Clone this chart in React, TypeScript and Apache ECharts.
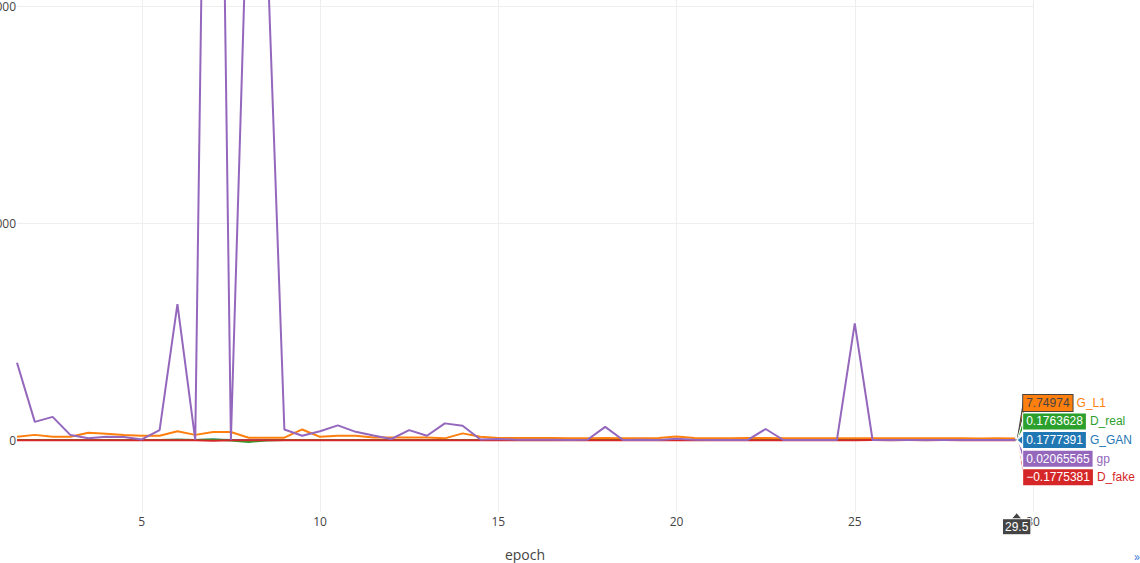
import React, { useEffect, useRef } from "react";
import * as echarts from "echarts";

// epochs 1.5 .. 29.5
const epochs = [
  1.5, 2, 2.5, 3, 3.5, 4, 4.5, 5, 5.5, 6,
  6.5, 7, 7.5, 8, 8.5, 9, 9.5, 10, 10.5, 11,
  11.5, 12, 12.5, 13, 13.5, 14, 14.5, 15, 15.5, 16,
  16.5, 17, 17.5, 18, 18.5, 19, 19.5, 20, 20.5, 21,
  21.5, 22, 22.5, 23, 23.5, 24, 24.5, 25, 25.5, 26,
  26.5, 27, 27.5, 28, 28.5, 29, 29.5,
];

const G_GAN = [
  0.58, 0.43, 0.49, 0.36, 0.42, 0.35, 0.4, 0.32, 0.45, 1.1,
  0.5, 2.6, 0.8, -1.2, 0.7, 0.55, 0.4, 0.37, 0.34, 0.3,
  0.29, 0.27, 0.28, 0.26, 0.29, 0.25, 0.24, 0.23, 0.22, 0.21,
  0.22, 0.2, 0.21, 0.23, 0.19, 0.2, 0.19, 0.21, 0.19, 0.2,
  0.19, 0.18, 0.2, 0.18, 0.19, 0.18, 0.18, 0.19, 0.17, 0.18,
  0.17, 0.18, 0.17, 0.18, 0.18, 0.18, 0.1777391,
];

const G_L1 = [
  15, 24, 15, 15, 34, 29, 23, 20, 20, 41,
  24, 37, 37, 11, 11, 11, 49, 15, 20, 20,
  12, 12, 12, 12, 8, 31, 15, 10, 9.6, 9.4,
  9.1, 8.9, 8.8, 9.2, 8.9, 8.7, 9.5, 16, 10, 8.6,
  8.5, 9.3, 9.1, 8.4, 8.5, 8.3, 8.3, 8.4, 8.2, 8.2,
  8.1, 8.0, 7.9, 8.0, 7.8, 7.9, 7.74974,
];

const D_real = [
  0.62, 0.45, 0.51, 0.38, 0.44, 0.36, 0.41, 0.33, 0.47, 1.2,
  0.52, 2.8, -1.5, -8.5, -2.1, 0.6, 0.42, 0.39, 0.35, 0.31,
  0.3, 0.28, 0.29, 0.27, 0.3, 0.26, 0.25, 0.24, 0.23, 0.22,
  0.23, 0.21, 0.22, 0.24, 0.2, 0.21, 0.2, 0.22, 0.19, 0.2,
  0.19, 0.18, 0.21, 0.18, 0.19, 0.18, 0.18, 0.2, 0.17, 0.18,
  0.17, 0.18, 0.17, 0.18, 0.17, 0.18, 0.1763628,
];

const D_fake = [
  -0.6, -0.44, -0.5, -0.37, -0.43, -0.35, -0.4, -0.32, -0.46, -1.1,
  -0.5, -2.7, -0.9, -0.5, -0.6, -0.56, -0.41, -0.38, -0.34, -0.3,
  -0.29, -0.27, -0.28, -0.26, -0.29, -0.25, -0.24, -0.23, -0.22, -0.21,
  -0.22, -0.2, -0.21, -0.23, -0.19, -0.2, -0.19, -0.21, -0.19, -0.2,
  -0.19, -0.18, -0.2, -0.18, -0.19, -0.18, -0.18, -0.19, -0.17, -0.18,
  -0.17, -0.18, -0.17, -0.18, -0.18, -0.18, -0.1775381,
];

const gp = [
  356, 84, 107, 23, 8, 15, 14, 3, 46, 627,
  0.9, 6000, 0.8, 2730, 2350, 49, 20, 41, 68, 38,
  21, 5, 46, 20, 77, 66, 3, 5, 2.1, 1.6,
  1.2, 0.9, 1.4, 61, 0.7, 1.1, 0.8, 6, 1.3, 0.9,
  0.6, 0.8, 51, 0.5, 0.7, 0.4, 0.6, 538, 0.3, 0.5,
  0.4, 0.2, 0.3, 0.2, 0.1, 0.15, 0.02065565,
];

const xTicks = [5, 10, 15, 20, 25, 30];
const yTicks = [0, 1000, 2000];
const xMin = 1.5;
const xMax = 30;
const yMin = -330;
const yMax = 2028;
const zeroLine = [[xMin, 0], [xMax, 0]];

const seriesDefs = [
  { name: "G_GAN", values: G_GAN, color: "#1f77b4" },
  { name: "G_L1", values: G_L1, color: "#ff7f0e" },
  { name: "D_real", values: D_real, color: "#2ca02c" },
  { name: "D_fake", values: D_fake, color: "#d62728" },
  { name: "gp", values: gp, color: "#9467bd" },
];

// hover label stacking order (top to bottom)
const hoverOrder = ["G_L1", "D_real", "G_GAN", "gp", "D_fake"];

const FONT = '"Open Sans", verdana, arial, sans-serif';
const HFONT = 'Arial, "Liberation Sans", sans-serif';

export default function App() {
  const ref = useRef<HTMLDivElement>(null);

  useEffect(() => {
    const el = ref.current!;
    const chart = echarts.init(el, undefined, { renderer: "svg" });

    const series: any[] = [
      {
        name: "zeroline",
        type: "line",
        data: zeroLine,
        showSymbol: false,
        symbol: "none",
        silent: true,
        z: 1,
        lineStyle: { width: 1, color: "#999" },
        emphasis: { disabled: true },
        animation: false,
      },
      ...seriesDefs.map((s) => ({
        name: s.name,
        type: "line",
        data: epochs.map((e, i) => [e, s.values[i]]),
        showSymbol: false,
        symbol: "none",
        clip: true,
        z: 2,
        lineStyle: { width: 2, color: s.color },
        itemStyle: { color: s.color },
        emphasis: { disabled: true },
        animation: false,
      })),
    ];

    chart.setOption({
      animation: false,
      grid: {
        left: 17,
        right: 107,
        top: 0,
        bottom: 51.3,
        containLabel: false,
        outerBoundsMode: "none",
      },
      xAxis: {
        type: "value",
        min: xMin,
        max: xMax,
        name: "epoch",
        nameLocation: "middle",
        nameGap: 36,
        nameTextStyle: { color: "#444", fontSize: 14, fontFamily: FONT },
        axisLine: { show: false },
        axisTick: { show: false, customValues: xTicks },
        axisLabel: {
          customValues: xTicks,
          margin: 4,
          color: "#444",
          fontSize: 12,
          fontFamily: FONT,
        },
        splitLine: { show: true, lineStyle: { color: "#eee", width: 1 } },
      },
      yAxis: {
        type: "value",
        min: yMin,
        max: yMax,
        axisLine: { show: false },
        axisTick: { show: false, customValues: yTicks },
        axisLabel: {
          customValues: yTicks,
          margin: 1,
          color: "#444",
          fontSize: 12,
          fontFamily: FONT,
          formatter: (v: number) => String(v),
        },
        splitLine: { show: true, lineStyle: { color: "#eee", width: 1 } },
      },
      series,
    });

    // hover annotation at last epoch
    const last = epochs.length - 1;
    const p = chart.convertToPixel({ xAxisIndex: 0, yAxisIndex: 0 }, [epochs[last], 0]) as number[];
    const pb = chart.convertToPixel({ xAxisIndex: 0, yAxisIndex: 0 }, [epochs[last], yMin]) as number[];
    const px = p[0];
    const py = p[1];
    const bottom = pb[1];
    const tipX = px + 2;
    const boxLeft = px + 8;
    const step = 18.6;

    const fmt = (v: number) => String(v).replace("-", "\u2212");

    const elements: any[] = [];
    hoverOrder.forEach((name, k) => {
      const def = seriesDefs.find((s) => s.name === name)!;
      const isLight = name === "G_L1";
      const txt = isLight ? "#444" : "#fff";
      const border = isLight ? "#444" : "#fff";
      const cy = py + (k - 2) * step;
      elements.push({
        type: "polygon",
        z: 100,
        shape: {
          points: [
            [tipX, py],
            [boxLeft + 1, cy - 6],
            [boxLeft + 1, cy + 6],
          ],
        },
        style: { fill: def.color, stroke: border, lineWidth: 1 },
      });
      elements.push({
        type: "text",
        z: 101,
        x: boxLeft,
        y: cy,
        style: {
          text: `{v|${fmt(def.values[last])}}{n|${name}}`,
          align: "left",
          verticalAlign: "middle",
          textAlign: "left",
          textVerticalAlign: "middle",
          rich: {
            v: {
              fill: txt,
              textFill: txt,
              backgroundColor: def.color,
              textBackgroundColor: def.color,
              borderColor: border,
              borderWidth: 1,
              textBorderColor: border,
              padding: [2, 3, 2, 3],
              textPadding: [2, 3, 2, 3],
              fontSize: 12,
              fontFamily: HFONT,
              lineHeight: 13,
            },
            n: {
              fill: def.color,
              textFill: def.color,
              padding: [0, 0, 0, 4],
              textPadding: [0, 0, 0, 4],
              fontSize: 12,
              fontFamily: HFONT,
              lineHeight: 13,
            },
          },
        },
      });
    });

    // x hover label
    elements.push({
      type: "polygon",
      z: 100,
      shape: {
        points: [
          [px + 1.5, bottom + 1],
          [px - 4.5, bottom + 8],
          [px + 7.5, bottom + 8],
        ],
      },
      style: { fill: "#444", stroke: "#fff", lineWidth: 1 },
    });
    elements.push({
      type: "text",
      z: 101,
      x: px + 1.5,
      y: bottom + 7.5,
      style: {
        text: String(epochs[last]),
        align: "center",
        verticalAlign: "top",
        textAlign: "center",
        textVerticalAlign: "top",
        fill: "#fff",
        textFill: "#fff",
        backgroundColor: "#444",
        textBackgroundColor: "#444",
        borderColor: "#fff",
        borderWidth: 1,
        padding: [1, 2, 1, 2],
        textPadding: [1, 2, 1, 2],
        fontSize: 12,
        fontFamily: HFONT,
        font: `12px ${HFONT}`,
        lineHeight: 13,
      },
    });
    elements.push({
      type: "text",
      z: 101,
      x: 1137,
      y: 556,
      style: {
        text: "»",
        align: "center",
        verticalAlign: "middle",
        textAlign: "center",
        textVerticalAlign: "middle",
        fill: "#447adb",
        textFill: "#447adb",
        font: `12px ${FONT}`,
      },
    });

    chart.setOption({ graphic: { elements } });

    return () => chart.dispose();
  }, []);

  return (
    <div
      ref={ref}
      style={{ position: "absolute", left: 0, top: 0, width: 1140, height: 563 }}
    />
  );
}
